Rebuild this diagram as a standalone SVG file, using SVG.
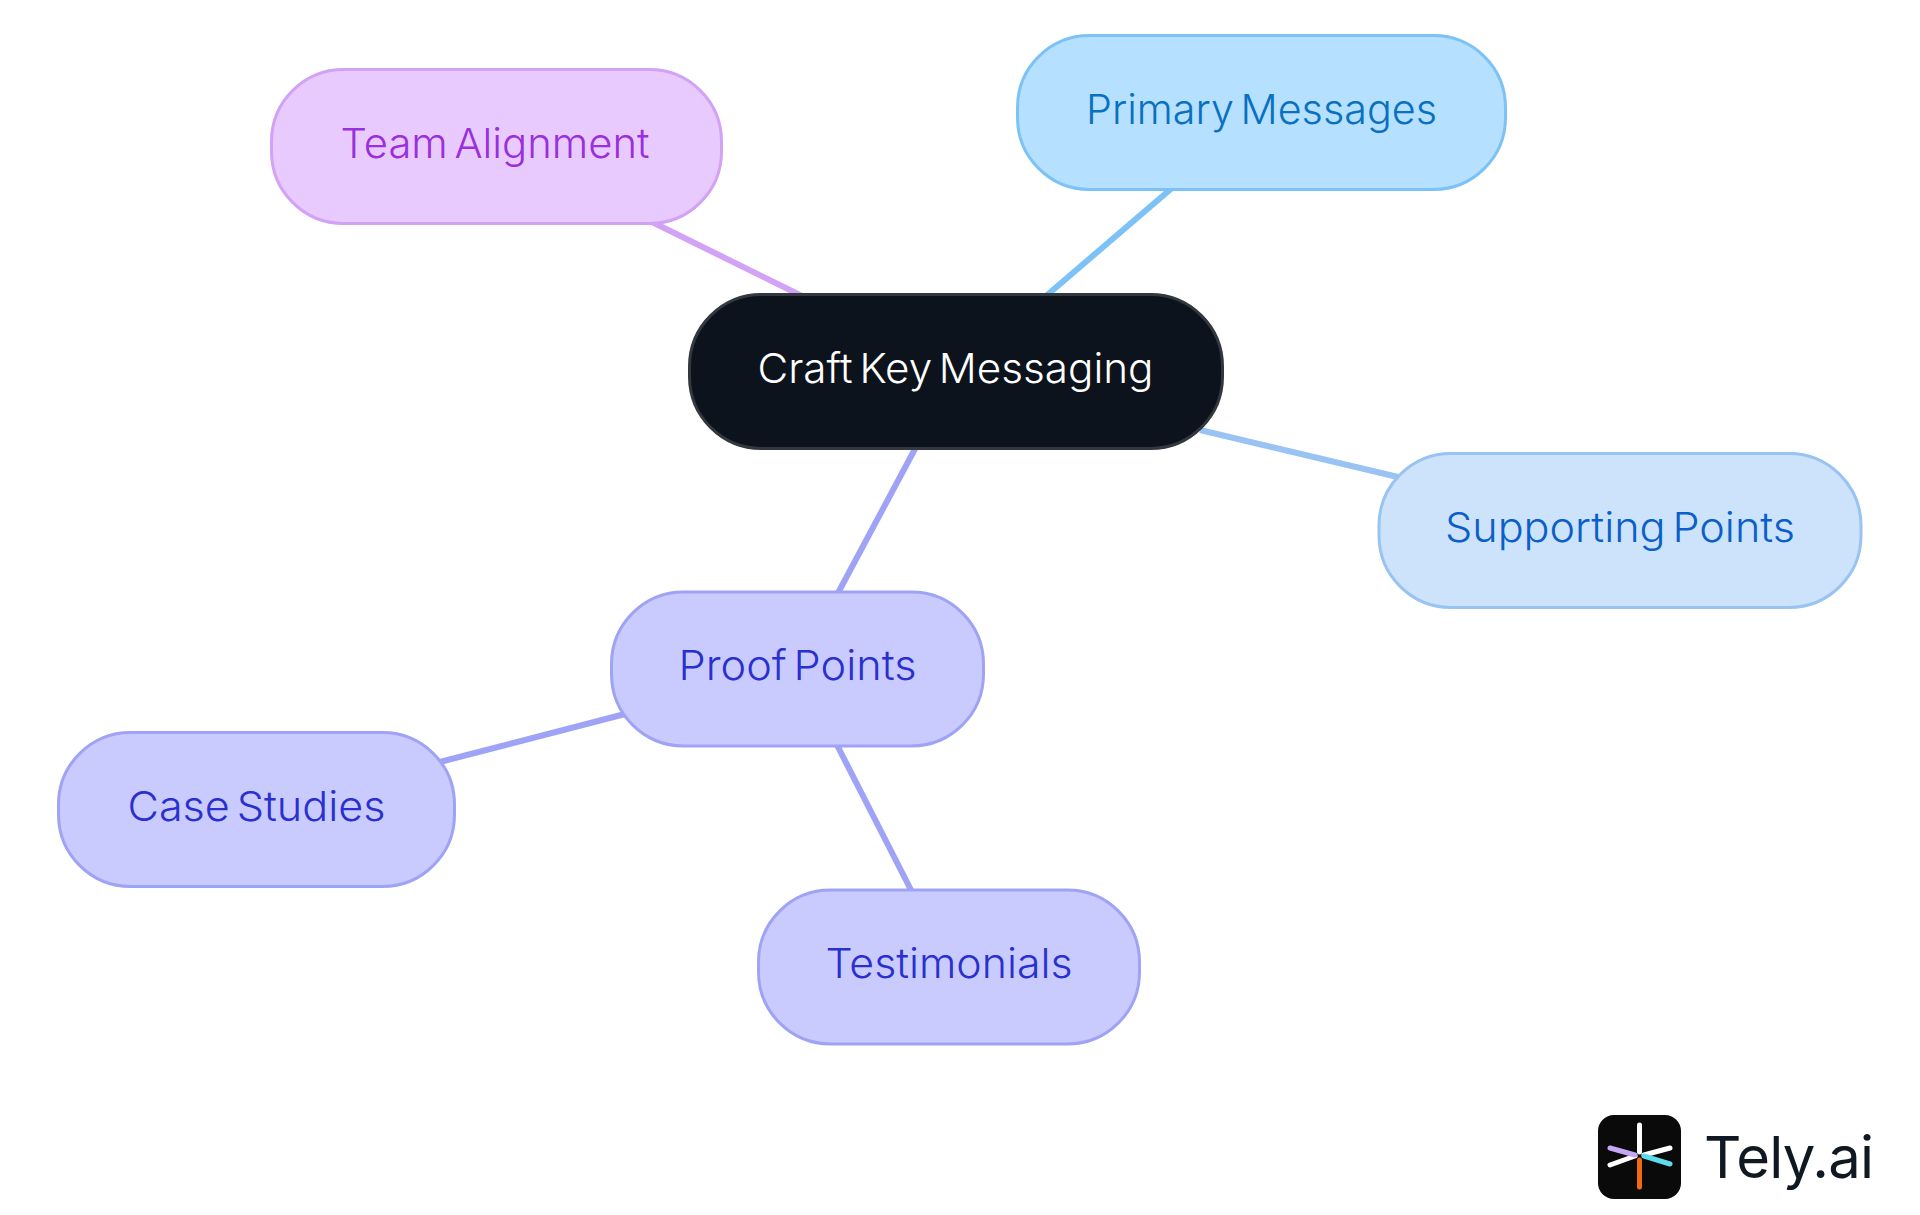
<svg xmlns="http://www.w3.org/2000/svg" width="1920" height="1215" viewBox="0 0 1920 1215">
<style>
text{font-family:"Inter","Noto Sans",sans-serif;font-size:41px;font-weight:300;text-anchor:middle;word-spacing:-5px}
.n{stroke-width:3}
.c{fill:none;stroke-width:6}
.p{fill:#c9cbff;stroke:#9fa3f5}
.pt{fill:#2a30cf}
</style>
<rect width="1920" height="1215" fill="#fff"/>
<g id="connectors">
<line class="c" x1="650" y1="221" x2="802" y2="296" stroke="#d1a2f5"/>
<line class="c" x1="1172" y1="188" x2="1046" y2="296" stroke="#7dc2f6"/>
<line class="c" x1="1200" y1="430" x2="1398" y2="477" stroke="#98c3f2"/>
<line class="c" x1="916" y1="447" x2="838" y2="593" stroke="#9fa3f5"/>
<line class="c" x1="625" y1="714" x2="440" y2="762" stroke="#9fa3f5"/>
<line class="c" x1="837" y1="745" x2="911" y2="890" stroke="#9fa3f5"/>
</g>
<g id="node-team"><rect class="n" x="271.500" y="69.500" width="450" height="154" rx="72" fill="#e8caff" stroke="#d1a2f5"/><text x="495" y="158" fill="#9a2fdc" textLength="309" lengthAdjust="spacingAndGlyphs">Team Alignment</text></g>
<g id="node-primary"><rect class="n" x="1017.500" y="35.500" width="488" height="154" rx="72" fill="#b5e0ff" stroke="#7dc2f6"/><text x="1261.500" y="124" fill="#0a70c0" textLength="351" lengthAdjust="spacingAndGlyphs">Primary Messages</text></g>
<g id="node-root"><rect class="n" x="689.500" y="294.500" width="533" height="154" rx="72" fill="#0c131c" stroke="#33373e"/><text x="955.500" y="383" fill="#fff" textLength="396" lengthAdjust="spacingAndGlyphs">Craft Key Messaging</text></g>
<g id="node-supporting"><rect class="n" x="1379" y="453.500" width="482" height="154" rx="72" fill="#cde3fc" stroke="#98c3f2"/><text x="1620" y="542" fill="#0a5fc9" textLength="350" lengthAdjust="spacingAndGlyphs">Supporting Points</text></g>
<g id="node-proof"><rect class="n p" x="611.500" y="592" width="372" height="154" rx="72"/><text class="pt" x="797.500" y="680" textLength="238" lengthAdjust="spacingAndGlyphs">Proof Points</text></g>
<g id="node-case"><rect class="n p" x="58.500" y="732.500" width="396" height="154" rx="72"/><text class="pt" x="256.500" y="821" textLength="258" lengthAdjust="spacingAndGlyphs">Case Studies</text></g>
<g id="node-testimonials"><rect class="n p" x="758.500" y="890" width="381" height="154" rx="72"/><text class="pt" x="949" y="978" textLength="247" lengthAdjust="spacingAndGlyphs">Testimonials</text></g>
<g id="logo">
<rect x="1598" y="1115" width="83" height="84" rx="16" fill="#0a0a0a"/>
<g stroke-width="5" stroke-linecap="round" fill="none">
<line x1="1639.500" y1="1125" x2="1639.500" y2="1152" stroke="#fff"/>
<line x1="1610" y1="1165" x2="1635" y2="1156" stroke="#fff"/>
<line x1="1644" y1="1155" x2="1670" y2="1148" stroke="#fff"/>
<line x1="1610" y1="1148" x2="1635" y2="1155" stroke="#c4a8f5"/>
<line x1="1644" y1="1156" x2="1670" y2="1164" stroke="#5fdcec"/>
<line x1="1639.500" y1="1160" x2="1639.500" y2="1187" stroke="#f26a0f"/>
</g>
<text x="1789" y="1178" fill="#101822" style="font-size:58px;font-weight:400" textLength="170" lengthAdjust="spacing">Tely.ai</text>
</g>
</svg>
